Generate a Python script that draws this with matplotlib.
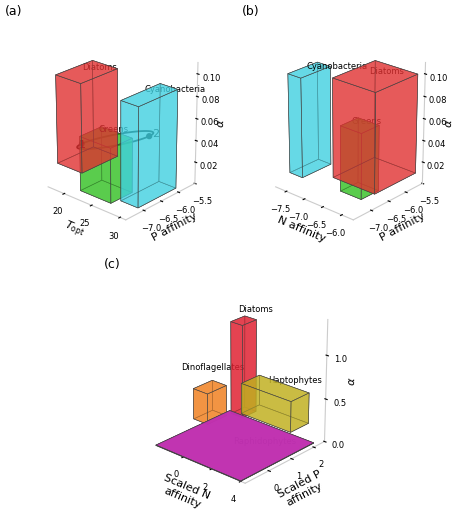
import numpy as np
import matplotlib
matplotlib.use("Agg")
import matplotlib.pyplot as plt
from mpl_toolkits.mplot3d.art3d import Poly3DCollection

# panel (a): Topt, P affinity, alpha
a_names = ["Diatoms", "Greens", "Cyanobacteria"]
a_x = [(17.5, 22.0), (21.0, 26.5), (27.0, 30.0)]
a_y = [(-7.3, -6.3), (-7.2, -6.6), (-7.0, -5.9)]
a_z = [(0.02, 0.10), (0.0, 0.05), (0.0, 0.09)]
a_col = ["#e03030", "#30c020", "#40d0e0"]

# panel (b): N affinity, P affinity, alpha
b_names = ["Cyanobacteria", "Diatoms", "Greens"]
b_x = [(-7.7, -7.35), (-6.9, -5.8), (-6.7, -6.15)]
b_y = [(-7.2, -6.4), (-6.8, -5.6), (-6.8, -6.3)]
b_z = [(0.01, 0.10), (0.01, 0.10), (0.0, 0.06)]
b_col = ["#40d0e0", "#e03030", "#30c020"]

# panel (c): scaled N, scaled P, alpha
c_names = ["Raphidophytes", "Dinoflagellates", "Diatoms", "Haptophytes"]
c_x = [(-2.0, 4.0), (-0.6, 0.4), (0.4, 1.2), (0.8, 4.2)]
c_y = [(-1.0, 2.2), (-0.2, 0.6), (0.8, 1.4), (1.0, 1.8)]
c_z = [(0.0, 0.005), (0.3, 0.65), (0.3, 1.35), (0.3, 0.65)]
c_col = ["#c030b0", "#f08020", "#e02030", "#c0b020"]


def box(ax, xr, yr, zr, color, alpha=0.55):
    x0, x1 = xr
    y0, y1 = yr
    z0, z1 = zr
    v = np.array([[x0, y0, z0], [x1, y0, z0], [x1, y1, z0], [x0, y1, z0],
                  [x0, y0, z1], [x1, y0, z1], [x1, y1, z1], [x0, y1, z1]])
    faces = [[v[i] for i in f] for f in
             [(0, 1, 2, 3), (4, 5, 6, 7), (0, 1, 5, 4), (2, 3, 7, 6), (1, 2, 6, 5), (0, 3, 7, 4)]]
    pc = Poly3DCollection(faces, facecolor=color, edgecolor="#444444", linewidth=0.4, alpha=alpha)
    ax.add_collection3d(pc)


def style(ax, xlim, ylim, zlim, aspect=(1, 1, 1.25)):
    ax.set_xlim(*xlim)
    ax.set_ylim(*ylim)
    ax.set_zlim(*zlim)
    ax.grid(False)
    for a in (ax.xaxis, ax.yaxis, ax.zaxis):
        a.set_pane_color((1, 1, 1, 0))
        a.pane.set_edgecolor("#cccccc")
        a.line.set_color("#cccccc")
    ax.tick_params(labelsize=6, pad=0)
    ax.view_init(elev=24, azim=-48)
    ax.set_box_aspect(aspect, zoom=0.82)


fig = plt.figure(figsize=(4.74, 5.16), dpi=100)

ax = fig.add_axes([0.0, 0.5, 0.5, 0.5], projection="3d")
for n, x, y, z, c in zip(a_names, a_x, a_y, a_z, a_col):
    box(ax, x, y, z, c)
style(ax, (17, 31), (-7.5, -5.5), (0, 0.11))
ax.set_xticks([20, 25, 30])
ax.set_yticks([-7.0, -6.5, -6.0, -5.5])
ax.set_zticks([0.02, 0.04, 0.06, 0.08, 0.10])
ax.set_xlabel("$T_{\\rm opt}$", fontsize=8, labelpad=-6)
ax.set_ylabel("P affinity", fontsize=8, labelpad=-6)
ax.set_zlabel("$\\alpha$", fontsize=8, labelpad=-6)
ax.text(19.0, -6.8, 0.1, "Diatoms", fontsize=6)
ax.text(22.5, -6.9, 0.052, "Greens", fontsize=6)
ax.text(28.0, -6.5, 0.092, "Cyanobacteria", fontsize=6, rotation=60)
t = np.linspace(0, 2 * np.pi, 100)
ax.plot(24 + 6 * np.cos(t), -6.7 + 0.5 * np.sin(t), 0.045 + 0.015 * np.cos(t), color="k", lw=1.3)
ax.scatter([18, 30], [-6.7, -6.7], [0.03, 0.06], color="k", s=12)
ax.text(17.4, -6.7, 0.025, "1", fontsize=8)
ax.text(30.5, -6.7, 0.06, "2", fontsize=8)
fig.text(0.01, 0.97, "(a)", fontsize=9)

ax = fig.add_axes([0.48, 0.5, 0.5, 0.5], projection="3d")
for n, x, y, z, c in zip(b_names, b_x, b_y, b_z, b_col):
    box(ax, x, y, z, c)
style(ax, (-7.8, -5.7), (-7.5, -5.5), (0, 0.11))
ax.set_xticks([-7.5, -7.0, -6.5, -6.0])
ax.set_yticks([-7.0, -6.5, -6.0, -5.5])
ax.set_zticks([0.02, 0.04, 0.06, 0.08, 0.10])
ax.set_xlabel("N affinity", fontsize=8, labelpad=-6)
ax.set_ylabel("P affinity", fontsize=8, labelpad=-6)
ax.set_zlabel("$\\alpha$", fontsize=8, labelpad=-6)
ax.text(-7.6, -6.8, 0.1, "Cyanobacteria", fontsize=6, rotation=70)
ax.text(-6.5, -6.2, 0.1, "Diatoms", fontsize=6)
ax.text(-6.6, -6.6, 0.06, "Greens", fontsize=6)
fig.text(0.51, 0.97, "(b)", fontsize=9)

ax = fig.add_axes([0.15, 0.0, 0.7, 0.5], projection="3d")
for n, x, y, z, c in zip(c_names, c_x, c_y, c_z, c_col):
    box(ax, x, y, z, c, alpha=0.6 if n != "Raphidophytes" else 0.85)
style(ax, (-2, 4.3), (-1, 2.5), (0, 1.4), aspect=(1, 1, 1.1))
ax.set_xticks([0, 2, 4])
ax.set_yticks([0, 1, 2])
ax.set_zticks([0.0, 0.5, 1.0])
ax.set_xlabel("Scaled N\naffinity", fontsize=8, labelpad=-4)
ax.set_ylabel("Scaled P\naffinity", fontsize=8, labelpad=-4)
ax.set_zlabel("$\\alpha$", fontsize=8, labelpad=-6)
ax.text(0.4, 1.1, 1.42, "Diatoms", fontsize=6)
ax.text(-2.2, 0.2, 0.72, "Dinoflagellates", fontsize=6)
ax.text(2.0, 1.4, 0.68, "Haptophytes", fontsize=6, rotation=-15)
ax.text(1.0, 0.5, 0.02, "Raphidophytes", fontsize=6)
fig.text(0.22, 0.48, "(c)", fontsize=9)

fig.savefig("out.png", dpi=100)
